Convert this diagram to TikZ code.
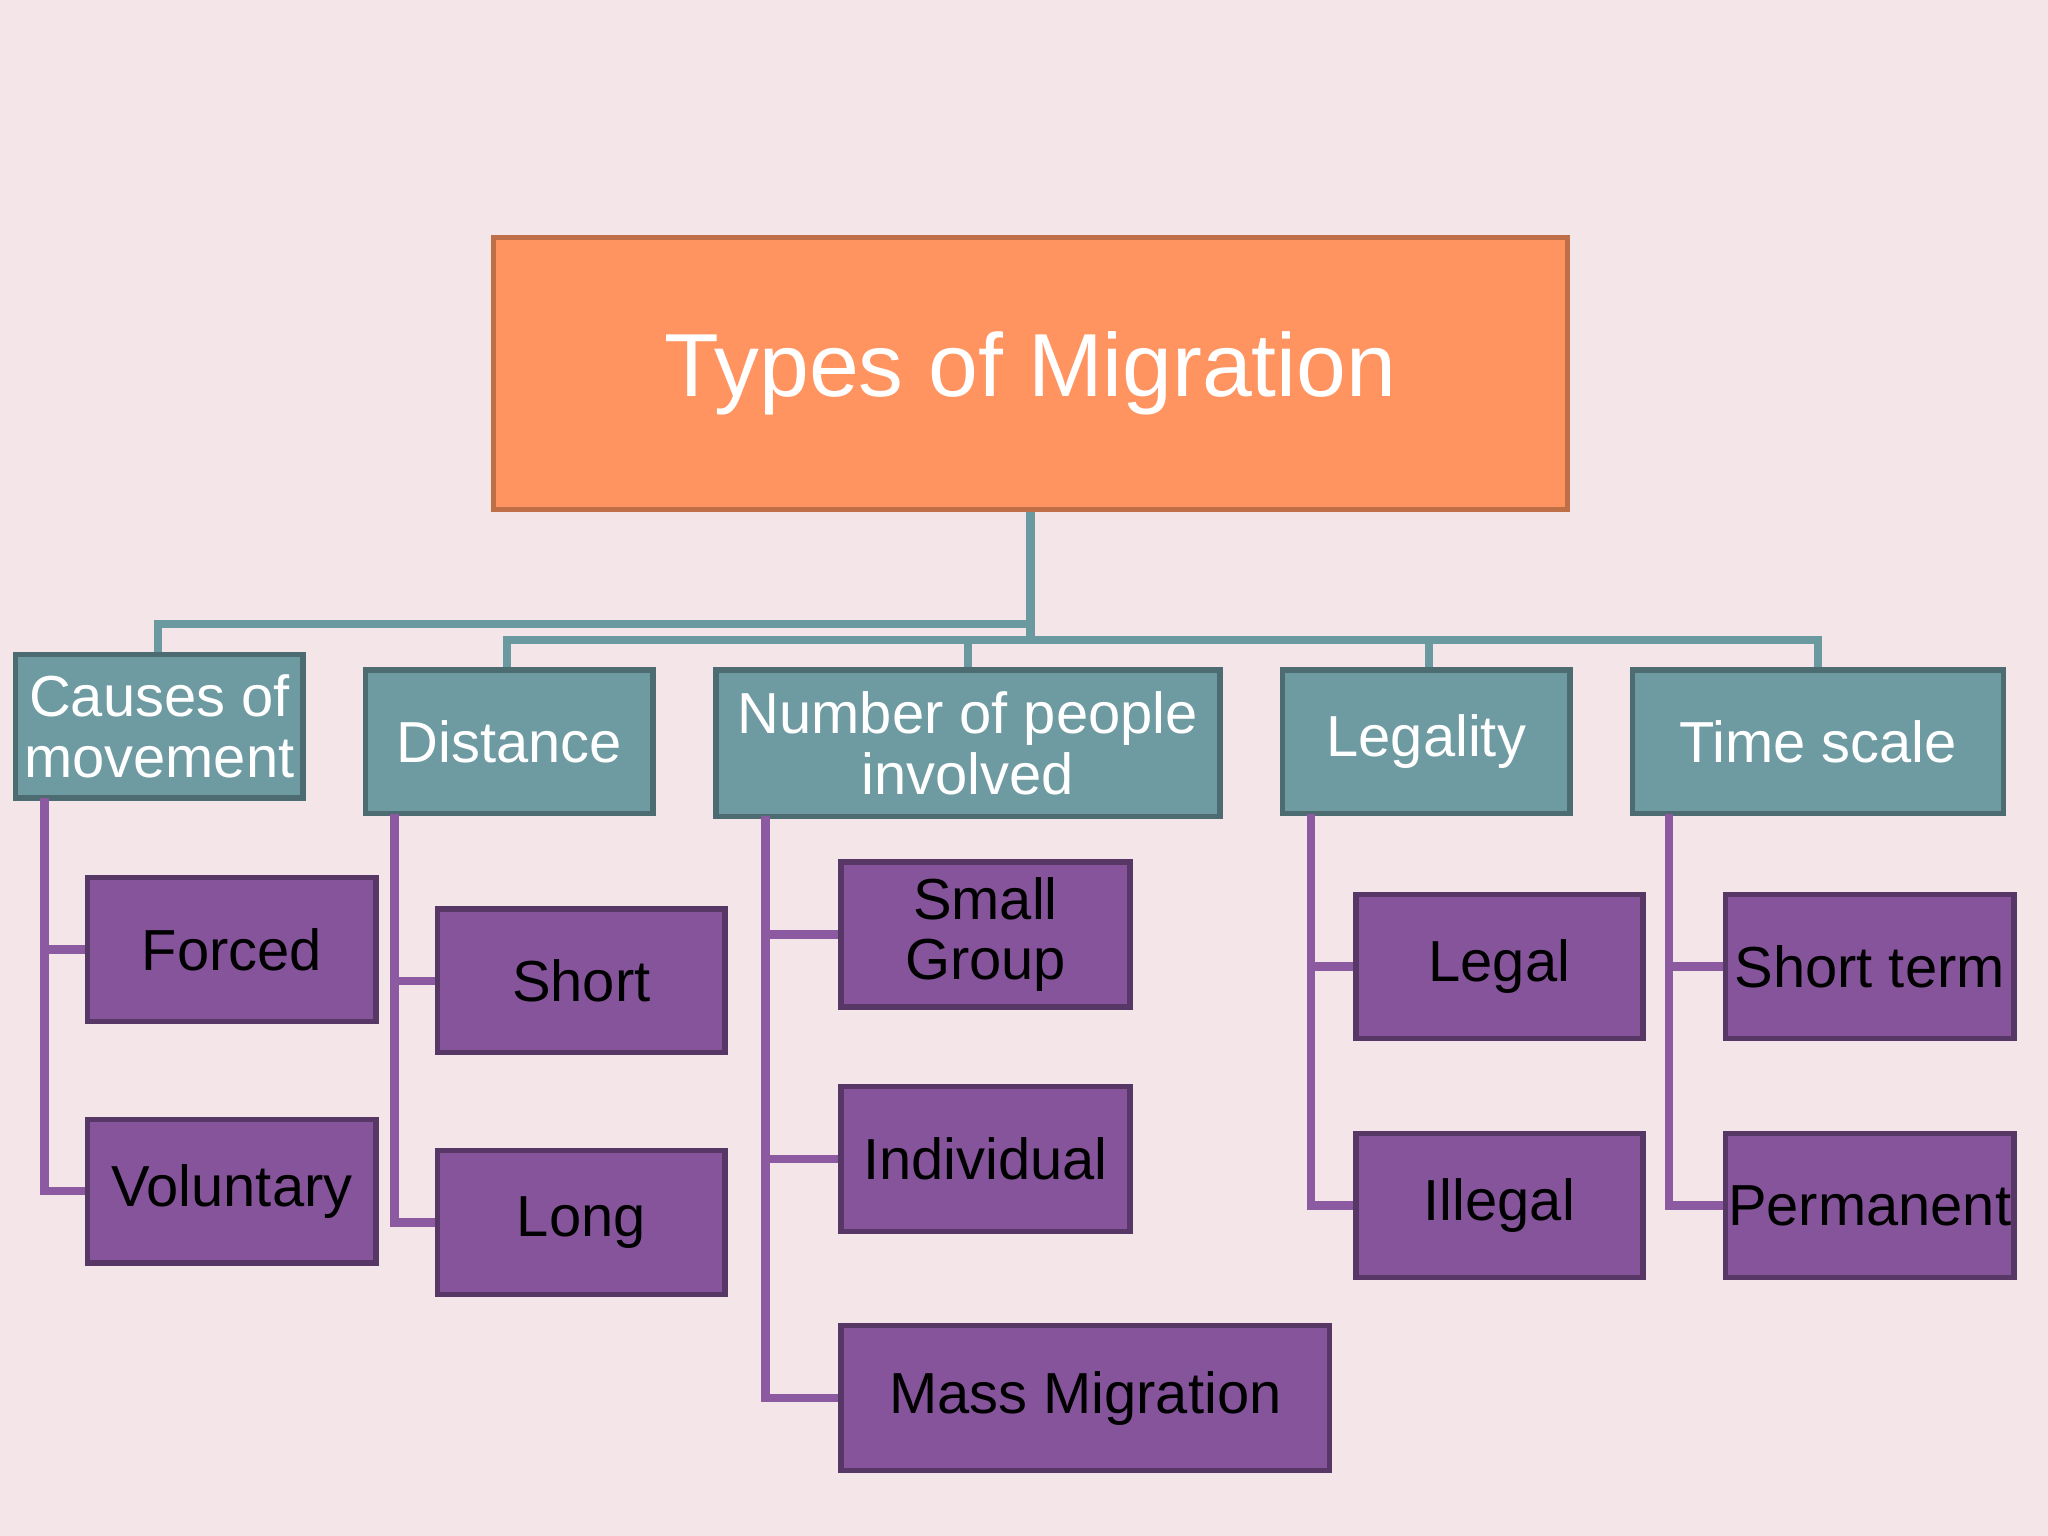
\documentclass[tikz,border=0pt]{standalone}
\usepackage{fontspec}
\setmainfont{Liberation Sans}
\definecolor{bg}{HTML}{F3E5E8}
\definecolor{orng}{HTML}{FF9460}
\definecolor{teal}{HTML}{6E9AA2}
\definecolor{purp}{HTML}{85549B}
\definecolor{tline}{HTML}{6A9AA0}
\definecolor{pline}{HTML}{8C5AA0}
\tikzset{
 bx/.style={draw, line width=1.2pt, inner sep=0pt, align=center, font=\fontsize{12.6}{13.2}\selectfont},
 titlebox/.style={bx, fill=orng, draw=orng!75!black, text=white, font=\fontsize{19.5}{21}\selectfont},
 catbox/.style={bx, fill=teal, draw=teal!70!black, text=white},
 subbox/.style={bx, fill=purp, draw=purp!65!black, text=black},
 tl/.style={tline, line width=1.8pt},
 pl/.style={pline, line width=1.8pt},
}
\newcommand\mkbox[7]{\node[#1, minimum width={(#5-#3)*0.01cm}, minimum height={(#6-#4)*0.01cm}] (#2) at ({(#3+#5)/2},{(#4+#6)/2}) {#7};}
\begin{document}
\begin{tikzpicture}[x=0.01cm,y=-0.01cm]
\fill[bg] (0,0) rectangle (1568,1176);
\useasboundingbox (0,0) rectangle (1568,1176);
% connectors
\coordinate (j1) at (789,478);
\coordinate (j2) at (789,490);
\draw[tl] (789,390) -- (j2);
\draw[tl] (121,501) -- (121,478) -- (j1);
\draw[tl] (388,513) -- (388,490) -- (1392,490) -- (1392,513);
\draw[tl] (741,490) -- (741,513);
\draw[tl] (1094,490) -- (1094,513);
% child connectors
\coordinate (c1) at (34,611);
\coordinate (c2) at (302,623);
\coordinate (c3) at (586,625);
\coordinate (c4) at (1004,623);
\coordinate (c5) at (1278,623);
% boxes
\mkbox{titlebox}{title}{378}{182}{1200}{390}{Types of Migration}
\mkbox{catbox}{cause}{12}{501}{232}{611}{Causes of\\movement}
\mkbox{catbox}{dist}{280}{513}{500}{623}{Distance}
\mkbox{catbox}{num}{548}{513}{934}{625}{Number of people\\involved}
\mkbox{catbox}{legal}{982}{513}{1202}{623}{Legality}
\mkbox{catbox}{time}{1250}{513}{1534}{623}{Time scale}
\mkbox{subbox}{forced}{67}{672}{288}{782}{Forced}
\mkbox{subbox}{vol}{67}{857}{288}{967}{Voluntary}
\mkbox{subbox}{short}{335}{696}{555}{806}{Short}
\mkbox{subbox}{long}{335}{881}{555}{991}{Long}
\mkbox{subbox}{small}{644}{660}{865}{771}{Small\\Group}
\mkbox{subbox}{indiv}{644}{832}{865}{943}{Individual}
\mkbox{subbox}{mass}{644}{1015}{1018}{1126}{Mass Migration}
\mkbox{subbox}{leg}{1038}{685}{1258}{795}{Legal}
\mkbox{subbox}{ille}{1038}{868}{1258}{978}{Illegal}
\mkbox{subbox}{sterm}{1321}{685}{1542}{795}{Short term}
\mkbox{subbox}{perm}{1321}{868}{1542}{978}{Permanent}
\draw[pl] (c1) |- (forced.west);
\draw[pl] (c1) |- (vol.west);
\draw[pl] (c2) |- (short.west);
\draw[pl] (c2) |- (long.west);
\draw[pl] (c3) |- (small.west);
\draw[pl] (c3) |- (indiv.west);
\draw[pl] (c3) |- (mass.west);
\draw[pl] (c4) |- (leg.west);
\draw[pl] (c4) |- (ille.west);
\draw[pl] (c5) |- (sterm.west);
\draw[pl] (c5) |- (perm.west);
\end{tikzpicture}
\end{document}
